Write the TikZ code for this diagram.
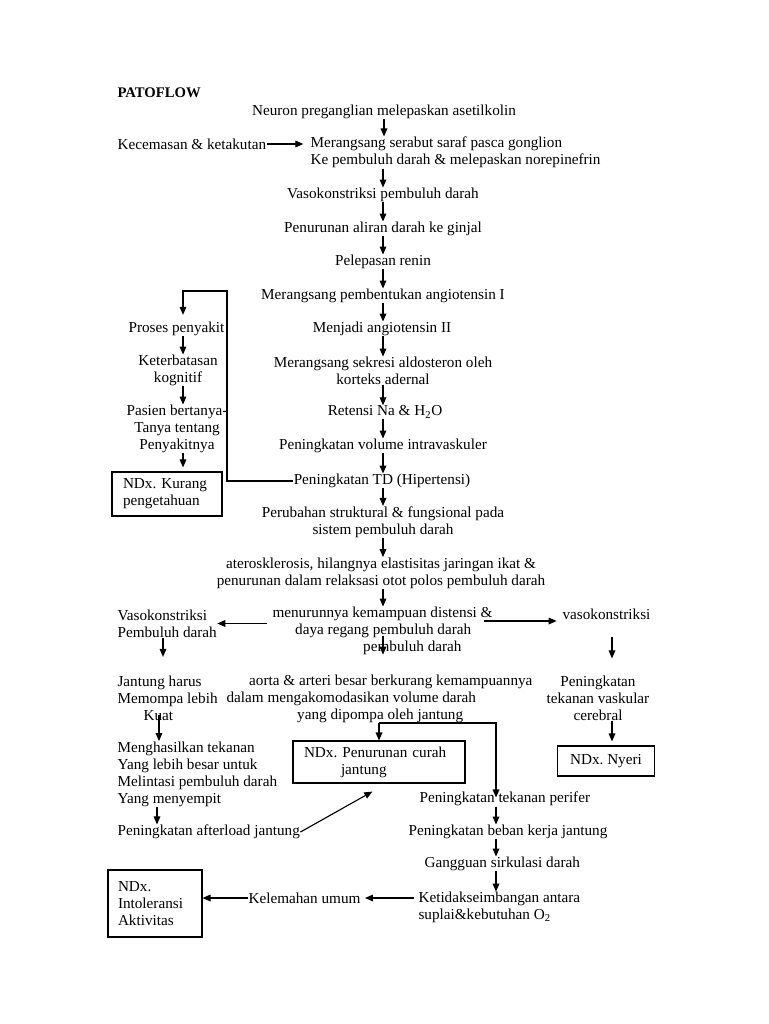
\documentclass[tikz,border=0pt]{standalone}
\usepackage{fontspec}
\setmainfont{Liberation Serif}
\usetikzlibrary{arrows.meta}

\begin{document}
\begin{tikzpicture}[x=.75pt,y=-.75pt,line width=.85pt,>={Triangle[length=6pt,width=5pt]},
    every node/.style={inner sep=0pt,font=\fontsize{11.4}{12.75}\selectfont\frenchspacing},
    lbl/.style={align=center,yshift=-1.5pt},
    lbll/.style={anchor=west,align=left,yshift=-1.5pt},
    ndx/.style={draw,align=left,inner xsep=8.25pt,inner ysep=0pt}]
    \fill[white](0,0)rectangle(768,1024);
    \useasboundingbox(0,0)rectangle(768,1024);
    % kolom garis panah
    \coordinate(sp)at(383,0);
    \coordinate(kiri)at(183,0);
    \coordinate(lt)at(227,291);
    \coordinate(kolA)at(163,0);
    \coordinate(kolB)at(159,0);
    \coordinate(kolC)at(157,0);
    \coordinate(kanan)at(612,0);
    \coordinate(bawah)at(496,0);

    \node[anchor=west,yshift=-1.5pt,font=\fontsize{11}{13}\selectfont\bfseries](judul)at(117,91){PATOFLOW};
    \node[lbl](n1)at(384,110){Neuron preganglian melepaskan asetilkolin};
    \node[lbll](kec)at(117,142){Kecemasan \& ketakutan};
    \node[lbll](n2)at(310,150.5){Merangsang serabut saraf pasca gonglion\\Ke pembuluh darah \& melepaskan norepinefrin};
    \node[lbl](n3)at(383,193){Vasokonstriksi pembuluh darah};
    \node[lbl](n4)at(383,227){Penurunan aliran darah ke ginjal};
    \node[lbl](n5)at(383,260){Pelepasan renin};
    \node[lbl](n6)at(383,294){Merangsang pembentukan angiotensin I};
    \node[lbl](n7)at(382,327){Menjadi angiotensin II};
    \node[lbl](n8)at(383,369){Merangsang sekresi aldosteron oleh\\korteks adernal};
    \node[lbl](n9)at(385,410){Retensi Na \& H\textsubscript{2}O};
    \node[lbl](n10)at(383,444){Peningkatan volume intravaskuler};
    \node[lbl](n11)at(382,479){Peningkatan TD (Hipertensi)};
    \node[lbl](n12)at(383,520){Perubahan struktural \& fungsional pada\\sistem pembuluh darah};
    \node[lbl](n13)at(381,571){aterosklerosis, hilangnya elastisitas jaringan ikat \&\\penurunan dalam relaksasi otot polos pembuluh darah};
    \node[lbll](n14)at(272,629){menurunnya kemampuan distensi \&\\\hspace*{17pt}daya regang pembuluh darah\\\hspace*{68pt}pembuluh darah};
    \node[lbll](n15)at(226,696.5){\hspace*{17pt}aorta \& arteri besar berkurang kemampuannya\\dalam mengakomodasikan volume darah\\\hspace*{53pt}yang dipompa oleh jantung};

    % cabang kiri atas
    \node[lbll](pp)at(128,327){Proses penyakit};
    \node[lbl](kk)at(178,368.5){Keterbatasan\\kognitif};
    \node[lbl](pb)at(177,427){Pasien bertanya-\\Tanya tentang\\Penyakitnya};
    \node[ndx,text width=66pt,minimum height=33pt](kurang)at(167,494){NDx. Kurang\\pengetahuan};

    % cabang kiri bawah
    \node[lbll](vk)at(117,621.5){Vasokonstriksi\\Pembuluh darah};
    \node[lbll](jh)at(117,696.5){Jantung harus\\Memompa lebih\\\hspace*{19.5pt}Kuat};
    \node[lbll](mt)at(117,772){Menghasilkan tekanan\\Yang lebih besar untuk\\Melintasi pembuluh darah\\Yang menyempit};
    \node[lbll](pa)at(117,830){Peningkatan afterload jantung};

    % cabang kanan
    \node[lbll](vr)at(562,612){vasokonstriksi};
    \node[lbl](pt)at(598,696){Peningkatan\\tekanan vaskular\\cerebral};
    \node[draw,minimum width=72.75pt,minimum height=22.5pt](nyeri)at(606,761){NDx. Nyeri};

    \node[ndx,text width=112.5pt,minimum height=31.5pt](curah)at(379,762){NDx. Penurunan curah\\\hspace*{27.75pt}jantung};
    \node[lbll](ptp)at(419,797){Peningkatan tekanan perifer};
    \node[lbll](pbk)at(408,830){Peningkatan beban kerja jantung};
    \node[lbll](gsd)at(424,862){Gangguan sirkulasi darah};
    \node[lbll](kt)at(418,905.5){Ketidakseimbangan antara\\suplai\&kebutuhan O\textsubscript{2}};
    \node[lbll](ku)at(248,896){Kelemahan umum};
    \node[ndx,text width=55.5pt,inner xsep=7.5pt,minimum height=50.25pt](intol)at(155,903.5){NDx.\\Intoleransi\\Aktivitas};

    % titik bantu
    \path(n14.south -| sp)++(0,-19)coordinate(m1);
    \path(n14.east)++(-9,-10)coordinate(ka);
    \path(jh.south -| kolB)++(0,-6)coordinate(m2);

    % alur utama
    \draw[->](n1.south)--(n1.south |- n2.north);
    \draw[->,shorten >=5pt](kec.east)--(kec.east -| n2.west);
    \draw[->](n2.south -| sp)--(n3.north -| sp);
    \draw[->](n3.south -| sp)--(n4.north -| sp);
    \draw[->](n4.south -| sp)--(n5.north -| sp);
    \draw[->](n5.south -| sp)--(n6.north -| sp);
    \draw[->](n6.south -| sp)--(n7.north -| sp);
    \draw[->](n7.south -| sp)--(n8.north -| sp);
    \draw[->](n8.south -| sp)--(n9.north -| sp);
    \draw[->](n9.south -| sp)--(n10.north -| sp);
    \draw[->](n10.south -| sp)--(n11.north -| sp);
    \draw[->](n11.south -| sp)--(n12.north -| sp);
    \draw[->](n12.south -| sp)--(n13.north -| sp);
    \draw[->](n13.south -| sp)--(n14.north -| sp);
    \draw[->,shorten >=14.5pt](m1)--(n15.north -| sp);
    \draw[->,shorten <=4pt](n14.west |- vk.east)--(vk.east);
    \draw[->,shorten >=4pt](ka)--(ka -| vr.west);

    % umpan balik ke kiri
    \draw[->,shorten >=5pt](n11.west)-|(lt)-|(pp.north -| kiri);
    \draw[->](pp.south -| kiri)--(kk.north -| kiri);
    \draw[->](kk.south -| kiri)--(pb.north -| kiri);
    \draw[->,shorten >=3pt](pb.south -| kiri)--(kurang.north -| kiri);

    \draw[->,shorten >=14pt](vk.south -| kolA)--(jh.north -| kolA);
    \draw[->](m2)--(mt.north -| kolB);
    \draw[->](mt.south -| kolC)--(pa.north -| kolC);
    \draw[->](pa.east)--([xshift=-5pt,yshift=-6pt]curah.south);

    \draw[->,shorten <=12.5pt,shorten >=12.5pt](vr.south -| kanan)--(pt.north -| kanan);
    \draw[->,shorten >=3pt](pt.south -| kanan)--(nyeri.north -| kanan);

    \draw[->](n15.south -| curah.north)--(curah.north);
    \draw[->,shorten >=-4.5pt](n15.south -| curah.north)-|(ptp.north -| bawah);
    \draw[->](ptp.south -| bawah)--(pbk.north -| bawah);
    \draw[->](pbk.south -| bawah)--(gsd.north -| bawah);
    \draw[->](gsd.south -| bawah)--(kt.north -| bawah);
    \draw[->,shorten <=3pt,shorten >=3pt](kt.west |- ku.east)--(ku.east);
    \draw[->](ku.west)--(ku.west -| intol.east);
\end{tikzpicture}
\end{document}
